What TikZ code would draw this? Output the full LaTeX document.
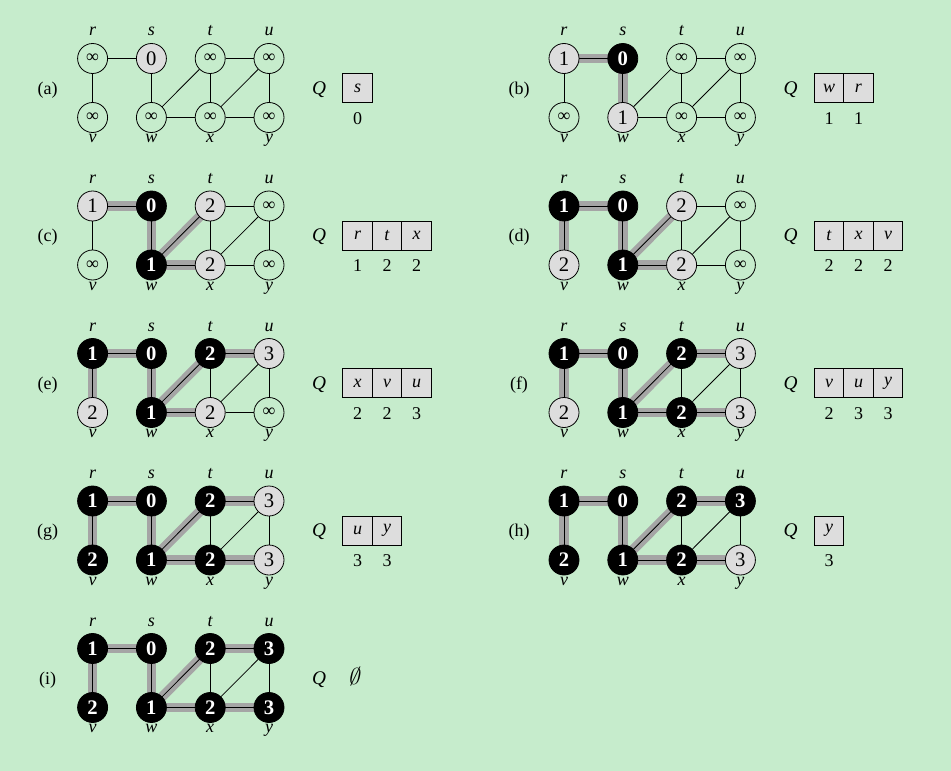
\documentclass[tikz,border=0pt]{standalone}
\usepackage{fontspec}
\setmainfont{Liberation Serif}
\definecolor{bg}{RGB}{198,236,204}
\definecolor{lgray}{RGB}{221,221,221}
\definecolor{tgray}{RGB}{165,165,165}
\pgfdeclarelayer{back}
\pgfdeclarelayer{mid}
\pgfsetlayers{back,mid,main}
\newcommand\inff{∞}
% #1 id, #2 x, #3 y, #4 label, #5 vertices (r,s,t,u,v,w,x,y), #6 plain edges
\newcommand\bfspanel[6]{%
\begin{scope}[shift={(#2,#3)}]
\foreach \n/\st/\val [count=\k from 0] in {#5}{%
  \pgfmathtruncatemacro\ii{mod(\k,4)}%
  \pgfmathtruncatemacro\jj{int(\k/4)}%
  \node[vst/.expanded=\st] (#1\n) at (\ii*58.8,\jj*59) {\val};}
\foreach \n [count=\k from 0] in {r,s,t,u}{\node[lab] (#1l\n) at (\k*58.8,-22.5) {\textit{\n}};}
\foreach \n [count=\k from 0] in {v,w,x,y}{\node[lab] (#1l\n) at (\k*58.8,84) {\textit{\n}};}
\foreach \a/\b in {#6}{\draw[plain] (#1\a) -- (#1\b);}
\node[lab] (#1lab) at (-45,35.5) {(#4)};
\node[lab,font=\fontsize{14.5}{14.5}\selectfont\itshape] (#1Q) at (226.5,35.5) {Q};
\end{scope}}
\newcommand\bfstree[2]{%
\begin{pgfonlayer}{mid}
\foreach \a/\b in {#2}{\draw[tree] (#1\a.center) -- (#1\b.center);}
\end{pgfonlayer}}
\newcommand\bfsqueue[4]{%
\begin{scope}[shift={(#2,#3)}]
\foreach \q/\d [count=\k from 0] in {#4}{%
  \node[qcell] (#1q\k) at (265+\k*29.5,29.5) {\textit{\q}};
  \node[lab] (#1d\k) at (265+\k*29.5,65.5) {\d};}
\end{scope}}
\begin{document}
\begin{tikzpicture}[x=0.75pt,y=-0.75pt,
  vtx/.style={circle,draw=black,line width=0.6pt,minimum size=22.5pt,inner sep=0pt,font=\fontsize{15.5}{15.5}\selectfont},
  wh/.style={vtx,font=\fontsize{13.5}{13.5}\selectfont},
  gr/.style={vtx,fill=lgray},
  bk/.style={vtx,fill=black,text=white,font=\fontsize{15.5}{15.5}\selectfont\bfseries},
  vst/.style={#1},
  lab/.style={anchor=base,inner sep=0pt,font=\fontsize{13.5}{13.5}\selectfont},
  plain/.style={draw=black,line width=0.6pt},
  tree/.style={draw=tgray,line width=3.3pt,double=black,double distance=0.6pt},
  qcell/.style={draw=black,fill=lgray,line width=0.6pt,minimum width=22.125pt,minimum height=21.75pt,inner sep=0pt,font=\fontsize{13.5}{13.5}\selectfont}
]
\begin{pgfonlayer}{back}
\fill[bg] (0,0) rectangle (951,771);
\end{pgfonlayer}
\useasboundingbox (0,0) rectangle (951,771);

% (a)
\bfspanel{a}{92.6}{58.5}{a}{r/wh/\inff,s/gr/0,t/wh/\inff,u/wh/\inff,v/wh/\inff,w/wh/\inff,x/wh/\inff,y/wh/\inff}
  {r/s,r/v,s/w,w/t,w/x,t/x,t/u,x/u,x/y,u/y}
\bfsqueue{a}{92.6}{58.5}{s/0}
% (b)
\bfspanel{b}{564}{58.5}{b}{r/gr/1,s/bk/0,t/wh/\inff,u/wh/\inff,v/wh/\inff,w/gr/1,x/wh/\inff,y/wh/\inff}
  {r/v,w/t,w/x,t/x,t/u,x/u,x/y,u/y}
\bfstree{b}{r/s,s/w}
\bfsqueue{b}{564}{58.5}{w/1,r/1}
% (c)
\bfspanel{c}{92.6}{206}{c}{r/gr/1,s/bk/0,t/gr/2,u/wh/\inff,v/wh/\inff,w/bk/1,x/gr/2,y/wh/\inff}
  {r/v,t/x,t/u,x/u,x/y,u/y}
\bfstree{c}{r/s,s/w,w/t,w/x}
\bfsqueue{c}{92.6}{206}{r/1,t/2,x/2}
% (d)
\bfspanel{d}{564}{206}{d}{r/bk/1,s/bk/0,t/gr/2,u/wh/\inff,v/gr/2,w/bk/1,x/gr/2,y/wh/\inff}
  {t/x,t/u,x/u,x/y,u/y}
\bfstree{d}{r/s,r/v,s/w,w/t,w/x}
\bfsqueue{d}{564}{206}{t/2,x/2,v/2}
% (e)
\bfspanel{e}{92.6}{353.5}{e}{r/bk/1,s/bk/0,t/bk/2,u/gr/3,v/gr/2,w/bk/1,x/gr/2,y/wh/\inff}
  {t/x,x/u,x/y,u/y}
\bfstree{e}{r/s,r/v,s/w,w/t,w/x,t/u}
\bfsqueue{e}{92.6}{353.5}{x/2,v/2,u/3}
% (f)
\bfspanel{f}{564}{353.5}{f}{r/bk/1,s/bk/0,t/bk/2,u/gr/3,v/gr/2,w/bk/1,x/bk/2,y/gr/3}
  {t/x,x/u,u/y}
\bfstree{f}{r/s,r/v,s/w,w/t,w/x,t/u,x/y}
\bfsqueue{f}{564}{353.5}{v/2,u/3,y/3}
% (g)
\bfspanel{g}{92.6}{501}{g}{r/bk/1,s/bk/0,t/bk/2,u/gr/3,v/bk/2,w/bk/1,x/bk/2,y/gr/3}
  {t/x,x/u,u/y}
\bfstree{g}{r/s,r/v,s/w,w/t,w/x,t/u,x/y}
\bfsqueue{g}{92.6}{501}{u/3,y/3}
% (h)
\bfspanel{h}{564}{501}{h}{r/bk/1,s/bk/0,t/bk/2,u/bk/3,v/bk/2,w/bk/1,x/bk/2,y/gr/3}
  {t/x,x/u,u/y}
\bfstree{h}{r/s,r/v,s/w,w/t,w/x,t/u,x/y}
\bfsqueue{h}{564}{501}{y/3}
% (i)
\bfspanel{i}{92.6}{648.5}{i}{r/bk/1,s/bk/0,t/bk/2,u/bk/3,v/bk/2,w/bk/1,x/bk/2,y/bk/3}
  {t/x,x/u,u/y}
\bfstree{i}{r/s,r/v,s/w,w/t,w/x,t/u,x/y}
\node[lab,font=\fontsize{17}{17}\selectfont,xslant=0.2] (iempty) at (92.6+261.4,648.5+35.5) {$\emptyset$};
\end{tikzpicture}
\end{document}
